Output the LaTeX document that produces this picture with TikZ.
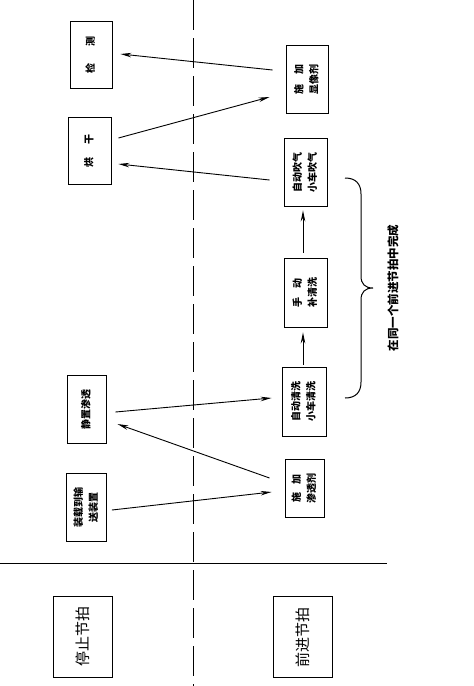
\documentclass[tikz,border=0pt]{standalone}
\usepackage{fontspec}
\usepackage{graphicx}
\newfontfamily\cjk{Noto Sans CJK SC}
\usetikzlibrary{arrows.meta,calc}
\newcommand\vtext[1]{\rotatebox{90}{\begin{tabular}{@{}c@{}}#1\end{tabular}}}
\tikzset{
  box/.style={draw,line width=0.9pt,inner sep=0pt,font=\cjk\bfseries\fontsize{10}{15}\selectfont},
  bigbox/.style={draw,line width=0.9pt,inner sep=0pt,minimum width=59pt,minimum height=81pt,font=\cjk\fontsize{15}{18}\selectfont},
  arr/.style={line width=0.9pt,-{Stealth[length=11pt,width=4.5pt]}},
  divider/.style={line width=1pt},
}
\begin{document}
\begin{tikzpicture}[x=1pt,y=-1pt]
\useasboundingbox (0,0) rectangle (474,686);
% dividers
\draw[divider,dash pattern=on 30pt off 8pt] (193,0) -- (193,686);
\draw[divider] (0,563) -- (387,563);
% boxes
\node[box,minimum width=42pt,minimum height=67pt] (jc) at (91,54.5) {\vtext{检\hspace{17pt}测}};
\node[box,minimum width=43pt,minimum height=67pt] (hg) at (89.5,150.5) {\vtext{烘\hspace{13pt}干}};
\node[box,minimum width=42pt,minimum height=68pt] (xxj) at (307,79) {\vtext{施\hspace{10pt}加\\显像剂}};
\node[box,minimum width=43pt,minimum height=68pt] (cq) at (305.5,172) {\vtext{自动吹气\\小车吹气}};
\node[box,minimum width=43pt,minimum height=69pt] (sd) at (305.5,292.5) {\vtext{手\hspace{9pt}动\\补清洗}};
\node[box,minimum width=44pt,minimum height=69pt] (zdqx) at (304,401.5) {\vtext{自动清洗\\小车清洗}};
\node[box,minimum width=39pt,minimum height=58pt] (stj) at (304.5,488) {\vtext{施\hspace{8pt}加\\渗透剂}};
\node[box,minimum width=39pt,minimum height=68pt] (jz) at (86.5,409) {\vtext{静置渗透}};
\node[box,minimum width=40pt,minimum height=68pt] (zz) at (86.5,507) {\vtext{装载到输\\送装置}};
\node[bigbox] (stop) at (82.5,636.5) {\rotatebox{90}{停止节拍}};
\node[bigbox] (fwd) at (302.5,637) {\rotatebox{90}{前进节拍}};
% arrows
\draw[arr] ($(xxj.west)+(-13,-9)$) -- ($(jc.east)+(8,-0.5)$);
\draw[arr] ($(hg.east)+(7,-12.5)$) -- ($(xxj.west)+(-16,18)$);
\draw[arr] ($(cq.west)+(-14,8)$) -- ($(hg.east)+(7,13.5)$);
\draw[arr] ($(zdqx.north)+(-1,-2)$) -- ($(sd.south)+(-2.5,5)$);
\draw[arr] ($(sd.north)+(-2.5,-5)$) -- ($(cq.south)+(-2.5,4)$);
\draw[arr] ($(jz.east)+(9,3)$) -- ($(zdqx.west)+(-10,-3.5)$);
\draw[arr] ($(stj.west)+(-15,-10)$) -- ($(jz.east)+(11,15)$);
\draw[arr] ($(zz.east)+(5,3)$) -- ($(stj.west)+(-13,4)$);
% brace
\draw[line width=1pt] (345,178) .. controls (356,178) and (361,184) .. (361,194) -- (361,276)
  .. controls (361,284) and (365,288) .. (373,288)
  .. controls (365,288) and (361,292) .. (361,300) -- (361,382)
  .. controls (361,392) and (356,398) .. (345,398);
\node[font=\cjk\bfseries\fontsize{11.5}{13}\selectfont] (note) at (393,288) {\rotatebox{90}{在同一个前进节拍中完成}};
\end{tikzpicture}
\end{document}
